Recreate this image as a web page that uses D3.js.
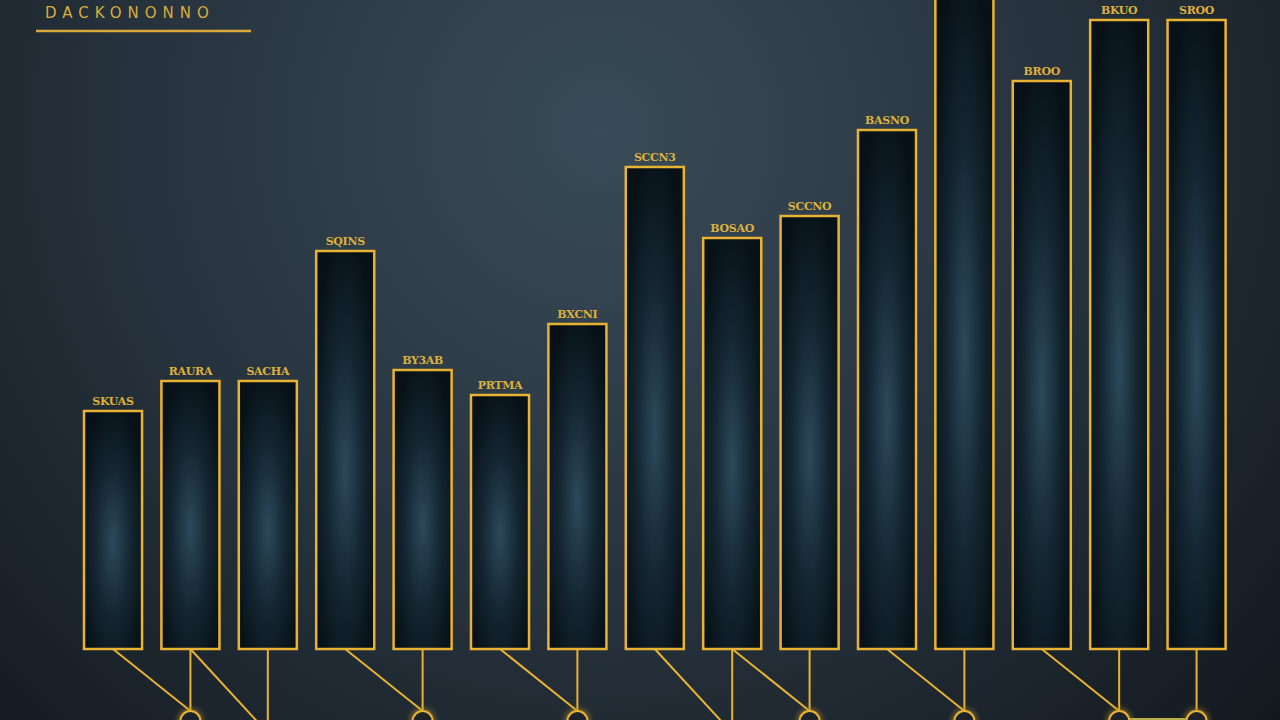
<!DOCTYPE html>
<html>
<head>
<meta charset="utf-8">
<script src="https://cdn.jsdelivr.net/npm/d3@7"></script>
<style>
html,body{margin:0;padding:0;background:#1b222a;}
svg{display:block;}
</style>
</head>
<body>
<svg id="chart" width="1280" height="720"></svg>
<script>
// ---- data ----
const title = "DACKONONNO";
const categories = ["SKUAS","RAURA","SACHA","SQINS","BY3AB","PRTMA","BXCNI","SCCN3","BOSAO","SCCNO","BASNO","","BROO","BKUO","SROO"];
const values = [238, 268, 268, 398, 279, 254, 325, 482, 411, 433, 519, 665, 568, 629, 629];
// connector links: [from bar index, to bar index]; nodes sit under the "to" bar
const links = [[0,1],[1,1],[1,2],[2,2],[3,4],[4,4],[5,6],[6,6],[7,8],[8,8],[8,9],[9,9],[10,11],[11,11],[12,13],[13,13],[14,14]];
const visibleNodes = [1,4,6,9,11,13,14];
const hiddenNodes = [2,8];
const bridge = [[13,14]];

// ---- setup ----
const W = 1280, H = 720;
const svg = d3.select("#chart");
const defs = svg.append("defs");
const gold = "#e8b232";

const bg = defs.append("radialGradient").attr("id","bg")
  .attr("gradientUnits","userSpaceOnUse").attr("cx",600).attr("cy",130).attr("r",900);
bg.append("stop").attr("offset","0%").attr("stop-color","#394b58");
bg.append("stop").attr("offset","45%").attr("stop-color","#293641");
bg.append("stop").attr("offset","100%").attr("stop-color","#13181e");
svg.append("rect").attr("width",W).attr("height",H).attr("fill","url(#bg)");

const bf = defs.append("radialGradient").attr("id","barfill")
  .attr("cx","0.5").attr("cy","0.55").attr("r","0.6").attr("fx","0.5").attr("fy","0.55");
bf.append("stop").attr("offset","0%").attr("stop-color","#2c495b");
bf.append("stop").attr("offset","50%").attr("stop-color","#152733");
bf.append("stop").attr("offset","100%").attr("stop-color","#071117");

const glow = defs.append("filter").attr("id","glow").attr("x","-100%").attr("y","-100%").attr("width","300%").attr("height","300%");
glow.append("feGaussianBlur").attr("stdDeviation",3).attr("result","b");
const m = glow.append("feMerge");
m.append("feMergeNode").attr("in","b");
m.append("feMergeNode").attr("in","SourceGraphic");

const x = d3.scaleBand().domain(d3.range(categories.length))
  .range([84, 1225.6]).paddingInner(0.25).paddingOuter(0);
const y = d3.scaleLinear().domain([0, 649]).range([649, 0]);
const cx = i => x(i) + x.bandwidth()/2;
const nodeY = 721, hiddenY = 733, r = 10;

// ---- title ----
svg.append("text").attr("x",45).attr("y",18)
  .attr("fill","#d9ab3a").attr("font-family","DejaVu Sans, sans-serif")
  .attr("font-size",15).attr("letter-spacing",6).text(title);
svg.append("line").attr("x1",36).attr("x2",251).attr("y1",31).attr("y2",31)
  .attr("stroke","#d9a93a").attr("stroke-width",2.5);

// ---- connectors ----
const gl = svg.append("g").attr("stroke",gold).attr("stroke-width",2).attr("fill","none");
gl.selectAll("line.link").data(links).join("line").attr("class","link")
  .attr("x1",d=>cx(d[0])).attr("y1",y(0))
  .attr("x2",d=>cx(d[1])).attr("y2",d=>hiddenNodes.includes(d[1]) ? hiddenY : nodeY - r);
gl.selectAll("line.bridge").data(bridge).join("line").attr("class","bridge")
  .attr("x1",d=>cx(d[0])).attr("x2",d=>cx(d[1])).attr("y1",719).attr("y2",719)
  .attr("stroke","#b8b04a");
gl.selectAll("circle").data(visibleNodes).join("circle")
  .attr("cx",d=>cx(d)).attr("cy",nodeY).attr("r",r)
  .attr("fill","#1c232b").attr("filter","url(#glow)");

// ---- bars ----
svg.append("g").selectAll("rect").data(values).join("rect")
  .attr("x",(d,i)=>x(i)).attr("y",d=>y(d))
  .attr("width",x.bandwidth()).attr("height",d=>y(0)-y(d))
  .attr("fill","url(#barfill)").attr("stroke",gold).attr("stroke-width",2.5);

// ---- labels ----
svg.append("g").selectAll("text").data(categories).join("text")
  .attr("x",(d,i)=>cx(i)).attr("y",(d,i)=>y(values[i])-6)
  .attr("text-anchor","middle").attr("fill","#dcb03c")
  .attr("font-family","DejaVu Serif, serif").attr("font-weight","bold").attr("font-size",11)
  .attr("letter-spacing",-0.3)
  .text(d=>d);
</script>
</body>
</html>
